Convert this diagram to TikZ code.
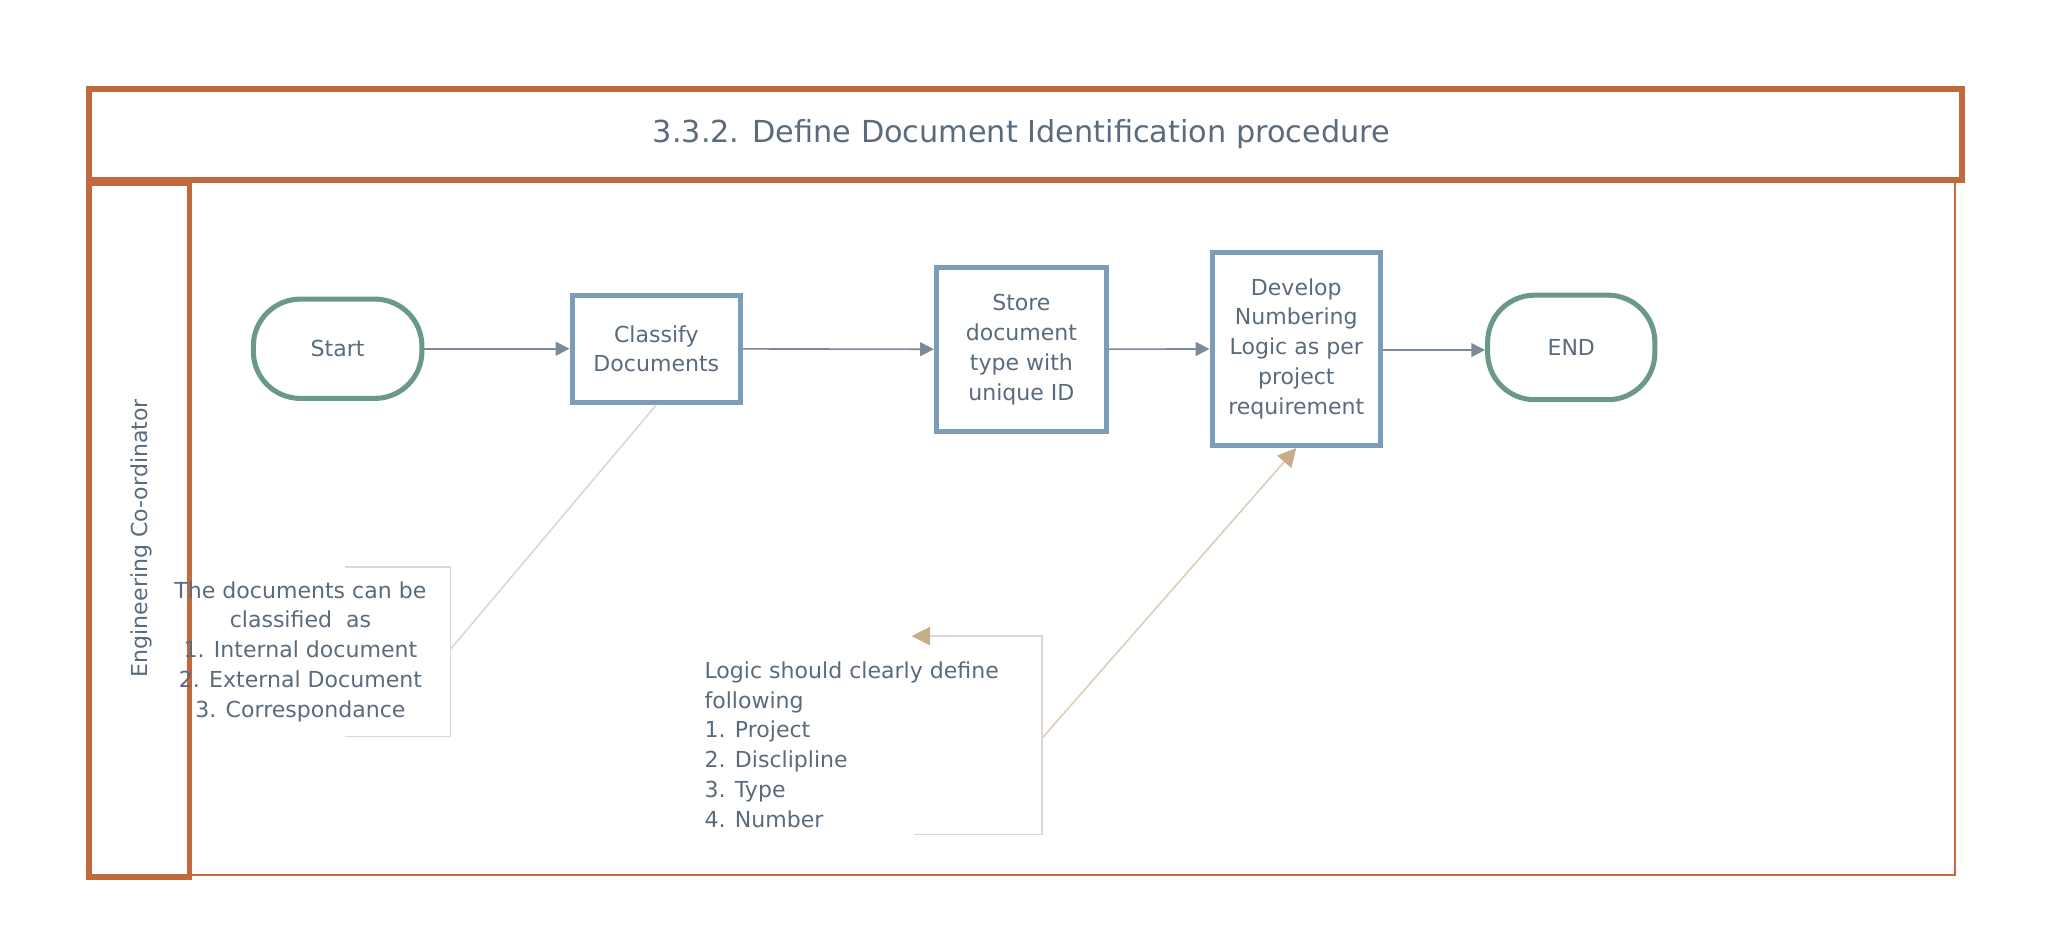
\documentclass[tikz,border=0pt]{standalone}
\usepackage{fontspec}
\setmainfont{DejaVu Sans}
\usetikzlibrary{arrows.meta}
\definecolor{txt}{HTML}{5A6B7E}
\definecolor{boxc}{HTML}{7D9CB8}
\definecolor{grn}{HTML}{6A9A86}
\definecolor{org}{HTML}{C0693C}
\definecolor{tan}{HTML}{C8AE88}
\definecolor{gry}{HTML}{D8D8D8}
\begin{document}
\begin{tikzpicture}[x=0.01cm,y=-0.01cm,
  every node/.style={text=txt,font=\fontsize{4.8}{6.5}\selectfont},
  proc/.style={draw=boxc,line width=1.1pt,align=center,inner sep=0pt},
  term/.style={draw=grn,line width=1.1pt,rounded corners=0.36cm,inner sep=0pt},
  flow/.style={draw=txt!80,line width=0.35pt,-{Triangle[length=3pt,width=3pt]}},
  note/.style={draw=gry,line width=0.35pt}]
\useasboundingbox (0,0) rectangle (1568,720.5);
\draw[org,line width=1.2pt] (68,68) rectangle (1502,138);
\node[font=\fontsize{6.6}{8}\selectfont] (ttl) at (782,103) {3.3.2. Define Document Identification procedure};
\draw[org,line width=0.5pt] (145,138) -- (1497,138) -- (1497,670) -- (68,670);
\draw[org,line width=1.2pt] (68,140) rectangle (145,672);
\node[rotate=90] (lane) at (108,412) {Engineering Co-ordinator};
\node[term,minimum width=1.29cm,minimum height=0.76cm] (start) at (258.5,267) {Start};
\node[proc,minimum width=1.29cm,minimum height=0.82cm] (cls) at (502.5,267) {Classify\\Documents};
\node[proc,minimum width=1.30cm,minimum height=1.25cm] (sto) at (782,267.5) {Store\\document\\type with\\unique ID};
\node[proc,minimum width=1.29cm,minimum height=1.48cm] (dev) at (992.5,267) {Develop\\Numbering\\Logic as per\\project\\requirement};
\node[term,minimum width=1.28cm,minimum height=0.80cm] (end) at (1203,266) {END};
\draw[flow] (start) -- (cls);
\draw[flow] (cls) -- (sto);
\draw[flow] (sto) -- (dev);
\draw[flow] (dev.east |- 0,268) -- (end.west |- 0,268);
% note 1
\node[align=center] (n1) at (230,499) {The documents can be\\classified\ \ as\\1. Internal document\\2. External Document\\3. Correspondance};
\draw[note] (264,434) -- (345,434) -- (345,564) -- (264,564);
\coordinate (n1a) at (345,497);
\draw[note] (n1a) -- (cls.south);
% note 2
\node[align=left,anchor=north west] (n2) at (527,494) {Logic should clearly define\\following\\1. Project\\2. Disclipline\\3. Type\\4. Number};
\coordinate (n2a) at (798,565);
\coordinate (n2t) at (698,487);
\draw[note,-{Triangle[length=4pt,width=4pt,color=tan]}] (700,639) -- (798,639) -- (798,487) -- (n2t);
\draw[note,draw=tan!60,-{Triangle[length=4pt,width=4pt,color=tan]}] (n2a) -- (dev.south);
\end{tikzpicture}
\end{document}
